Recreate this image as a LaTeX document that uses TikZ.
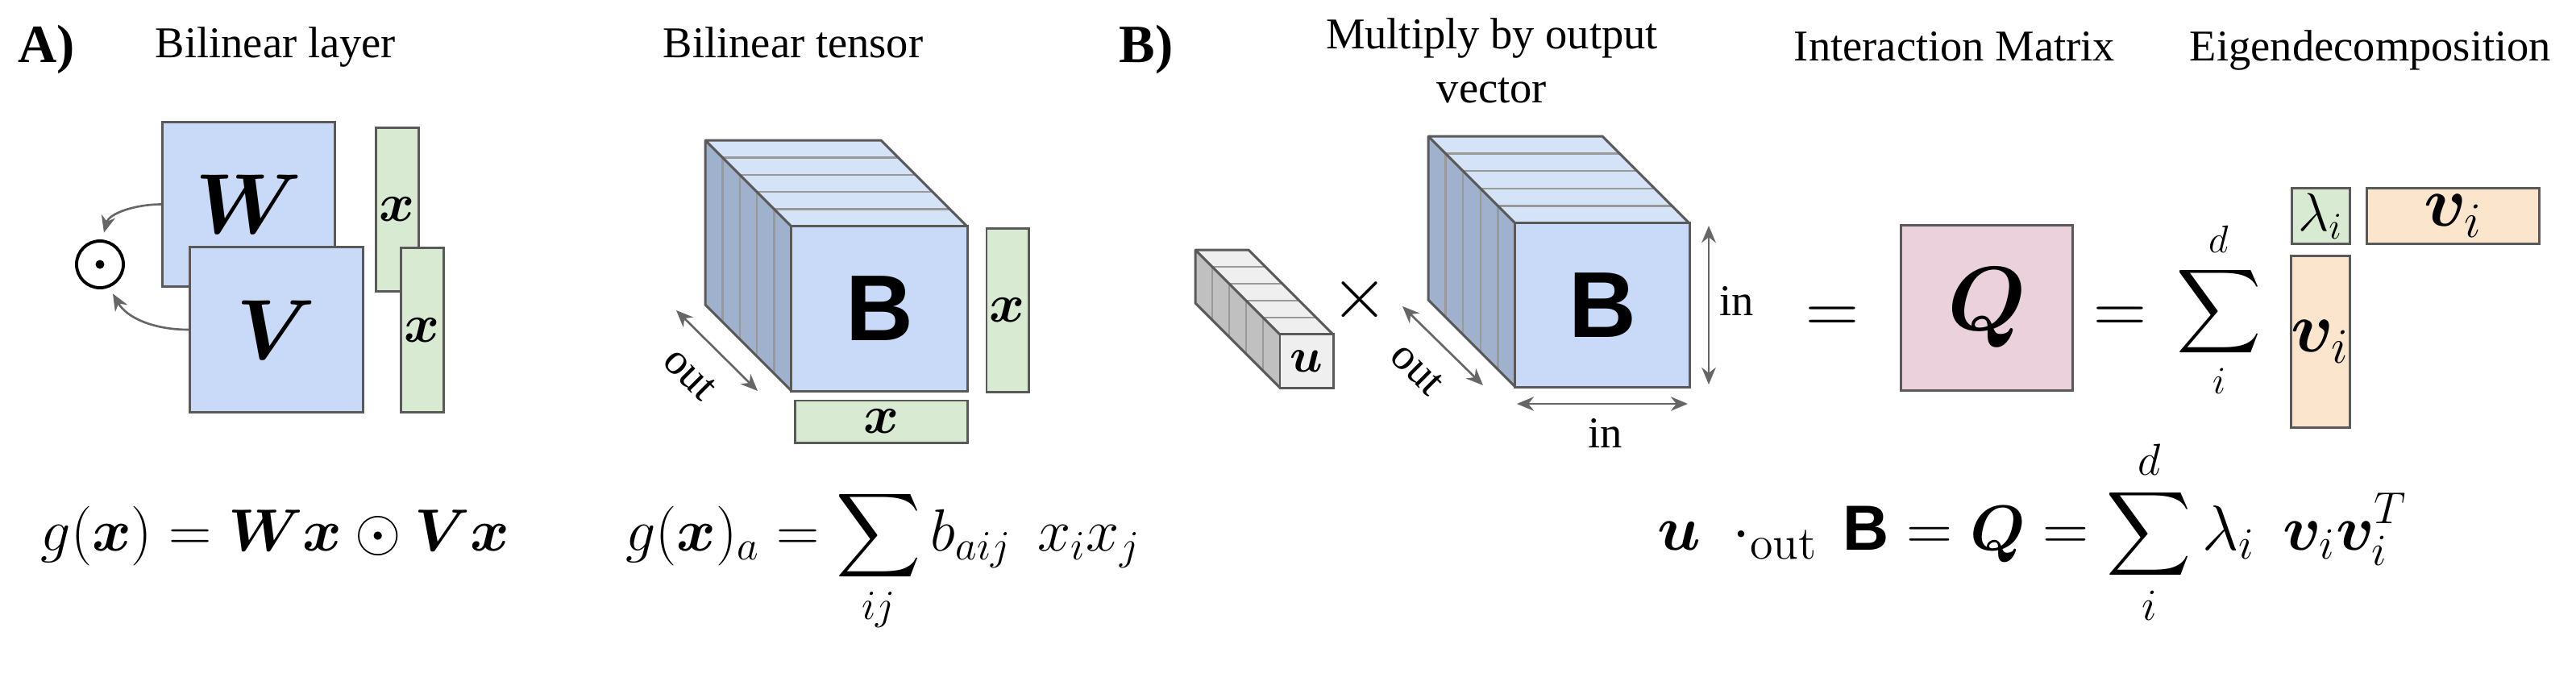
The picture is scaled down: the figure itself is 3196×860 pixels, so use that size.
\RequirePackage{fix-cm}
\documentclass[tikz,border=0pt]{standalone}
\usepackage{amsmath}
\usepackage{bm}
\usepackage[no-math]{fontspec}
\setmainfont{Liberation Serif}
\setsansfont{Liberation Sans}
\usetikzlibrary{arrows.meta}

\definecolor{blueface}{HTML}{C9DAF8}
\definecolor{bluetop}{HTML}{D5E3F9}
\definecolor{blueside}{HTML}{9FB1CD}
\definecolor{greenface}{HTML}{D9EAD3}
\definecolor{pinkface}{HTML}{EAD1DC}
\definecolor{orangeface}{HTML}{FCE5CD}
\definecolor{grayface}{HTML}{EFEFEF}
\definecolor{grayside}{HTML}{C0C0C0}
\definecolor{edgegray}{HTML}{595959}
\definecolor{slicegray}{HTML}{999999}
\definecolor{arrowgray}{HTML}{666666}

\begin{document}
\begin{tikzpicture}
[x=0.01cm, y=-0.01cm,
  boxdecorate/.style={shape=rectangle,draw=edgegray,line width=0.85pt,inner sep=0pt},
  titledecorate/.style={font=\fontsize{15.5}{18.8}\selectfont,inner sep=0pt},
  letterdecorate/.style={font=\fontsize{19}{23}\selectfont\bfseries,inner sep=0pt,anchor=base west},
  formuladecorate/.style={font=\fontsize{21}{25}\selectfont,inner sep=0pt,anchor=base},
  linedecorate/.style={draw=arrowgray,line width=0.75pt},
  arrowdecorate/.style={linedecorate,-{Stealth[length=6pt,width=5pt]}},
  twowaydecorate/.style={linedecorate,{Stealth[length=6pt,width=5pt]}-{Stealth[length=6pt,width=5pt]}}]

\useasboundingbox (0,0) rectangle (3196,860);

%% panel letters and titles
\node[letterdecorate] (lettera) at (22,77) {A)};
\node[letterdecorate] (letterb) at (1388,77) {B)};
\foreach \nodename/\x/\y/\words in {
  titlelayer/342/71/Bilinear layer, titletensor/984/71/Bilinear tensor,
  titlematrix/2425/75/Interaction Matrix, titleeigen/2941/75/Eigendecomposition}
{
  \node[titledecorate,anchor=base] (\nodename) at (\x,\y) {\words};
}
\node[titledecorate,align=center,anchor=base] (titlemultiply) at (1851,127)
  {Multiply by output\\vector};

%% A) bilinear layer
\node[boxdecorate,fill=blueface,minimum width=2.13cm,minimum height=2.03cm,
  font=\fontsize{30}{36}\selectfont] (W) at (308.5,253.5) {$\bm{W}$};
\node[boxdecorate,fill=greenface,minimum width=0.52cm,minimum height=2.02cm,
  font=\fontsize{19}{23}\selectfont] (xw) at (493,260) {$\bm{x}$};
\node[boxdecorate,fill=blueface,minimum width=2.14cm,minimum height=2.04cm,
  font=\fontsize{30}{36}\selectfont] (V) at (343,409) {$\bm{V}$};
\node[boxdecorate,fill=greenface,minimum width=0.52cm,minimum height=2.03cm,
  font=\fontsize{19}{23}\selectfont] (xv) at (524,409.5) {$\bm{x}$};
\node[shape=circle,draw=black,line width=1.1pt,minimum size=0.58cm,inner sep=0pt] (odot) at (124,328) {};
\fill (odot.center) circle (0.055cm);
\draw[arrowdecorate,shorten >=2.5pt] (W.west) to[out=180,in=75] (odot.85);
\draw[arrowdecorate,shorten >=2.5pt] (V.west) to[out=180,in=-60] (odot.-68);

%% cubes: tensor A, tensor B, vector u
\foreach \fx/\fy/\w/\h/\s/\topcolor/\sidecolor in {
  982/281/218/204/21.4/bluetop/blueside, 1880/277/216/203/21.6/bluetop/blueside,
  1588/415/66/66/21/grayface/grayside}
{
  \fill[\topcolor] (\fx,\fy) -- ++(\w,0) -- ++(-5*\s,-5*\s) -- ++(-\w,0) -- cycle;
  \fill[\sidecolor] (\fx,\fy) -- ++(-5*\s,-5*\s) -- ++(0,\h) -- ++(5*\s,5*\s) -- cycle;
  \foreach \k in {1,...,4}
  {
    \draw[slicegray,line width=0.7pt] ({\fx-\k*\s},{\fy-\k*\s}) -- ++(\w,0)
      ({\fx-\k*\s},{\fy-\k*\s}) -- ++(0,\h);
  }
  \draw[edgegray,line width=0.85pt,line join=round] (\fx,\fy+\h) -- ++(-5*\s,-5*\s)
    -- ++(0,-\h) -- ++(\w,0) -- ++(5*\s,5*\s) (\fx,\fy) -- ++(-5*\s,-5*\s);
}

%% A) bilinear tensor
\node[boxdecorate,fill=blueface,minimum width=2.18cm,minimum height=2.04cm,
  font=\fontsize{33}{40}\sffamily\bfseries] (tensora) at (1091,383) {B};
\node[boxdecorate,fill=greenface,minimum width=0.52cm,minimum height=2.02cm,
  font=\fontsize{19}{23}\selectfont] (xcol) at (1250,385) {$\bm{x}$};
\node[boxdecorate,fill=greenface,minimum width=2.13cm,minimum height=0.52cm,
  font=\fontsize{19}{23}\selectfont] (xrow) at (1093.5,523) {$\bm{x}$};
\coordinate (outastart) at (839,385);
\coordinate (outaend) at (940,485);
\draw[twowaydecorate] (outastart) -- (outaend);
\node[titledecorate,rotate=-45] (outa) at (856,464) {out};

%% B) multiply by output vector
\node[boxdecorate,fill=grayface,minimum width=0.66cm,minimum height=0.66cm,
  font=\fontsize{17}{20}\selectfont] (u) at (1621,448) {$\bm{u}$};
\node[inner sep=0pt,font=\fontsize{26}{30}\selectfont] (times) at (1687,372) {$\times$};
\node[boxdecorate,fill=blueface,minimum width=2.16cm,minimum height=2.03cm,
  font=\fontsize{33}{40}\sffamily\bfseries] (tensorb) at (1988,378.5) {B};
\coordinate (outbstart) at (1740,380);
\coordinate (outbend) at (1840,478);
\coordinate (invstart) at (2120,280);
\coordinate (invend) at (2120,477);
\coordinate (inhstart) at (1882,501);
\coordinate (inhend) at (2094,501);
\draw[twowaydecorate] (outbstart) -- (outbend);
\draw[twowaydecorate] (invstart) -- (invend);
\draw[twowaydecorate] (inhstart) -- (inhend);
\node[titledecorate,rotate=-45] (outb) at (1758,458) {out};
\node[titledecorate] (inv) at (2155,373) {in};
\node[titledecorate] (inh) at (1992,537) {in};

%% B) interaction matrix and eigendecomposition
\node[inner sep=0pt,font=\fontsize{26}{30}\selectfont] (eqa) at (2273,397) {$=$};
\node[boxdecorate,fill=pinkface,minimum width=2.12cm,minimum height=2.04cm,
  font=\fontsize{32}{38}\selectfont] (Q) at (2465,382) {$\bm{Q}$};
\node[inner sep=0pt,font=\fontsize{26}{30}\selectfont] (eqb) at (2630,397) {$=$};
\node[inner sep=0pt,font=\fontsize{19.5}{23}\selectfont] (sumeig) at (2753,384) {$\displaystyle\sum_{i}^{d}$};
\node[boxdecorate,fill=greenface,minimum width=0.72cm,minimum height=0.68cm,
  font=\fontsize{19}{23}\selectfont] (lambda) at (2879,268) {$\lambda_i$};
\node[boxdecorate,fill=orangeface,minimum width=2.13cm,minimum height=0.68cm,
  font=\fontsize{25}{30}\selectfont] (vrow) at (3043.5,268) {$\bm{v}_i$};
\node[boxdecorate,fill=orangeface,minimum width=0.72cm,minimum height=2.12cm,
  font=\fontsize{25}{30}\selectfont] (vcol) at (2879,424) {$\bm{v}_i$};

%% formulas
\node[formuladecorate] (formulaa) at (341.5,683)
  {$g(\bm{x}) = \bm{W}\bm{x}\odot\bm{V}\bm{x}$};
\node[formuladecorate] (formulab) at (1095.5,683)
  {$g(\bm{x})_a = \displaystyle\sum_{ij} b_{aij}\;\,x_i x_j$};
\node[formuladecorate,font=\fontsize{22.5}{27}\selectfont] (formulac) at (2521.5,682)
  {$\bm{u}\;\cdot_{\text{\fontsize{16.5}{18}\selectfont$\mathrm{out}$}}\,\textsf{\bfseries B} = \bm{Q} = \displaystyle\sum_{i}^{d}\lambda_i\;\,\bm{v}_i\bm{v}_i^T$};
\end{tikzpicture}
\end{document}
